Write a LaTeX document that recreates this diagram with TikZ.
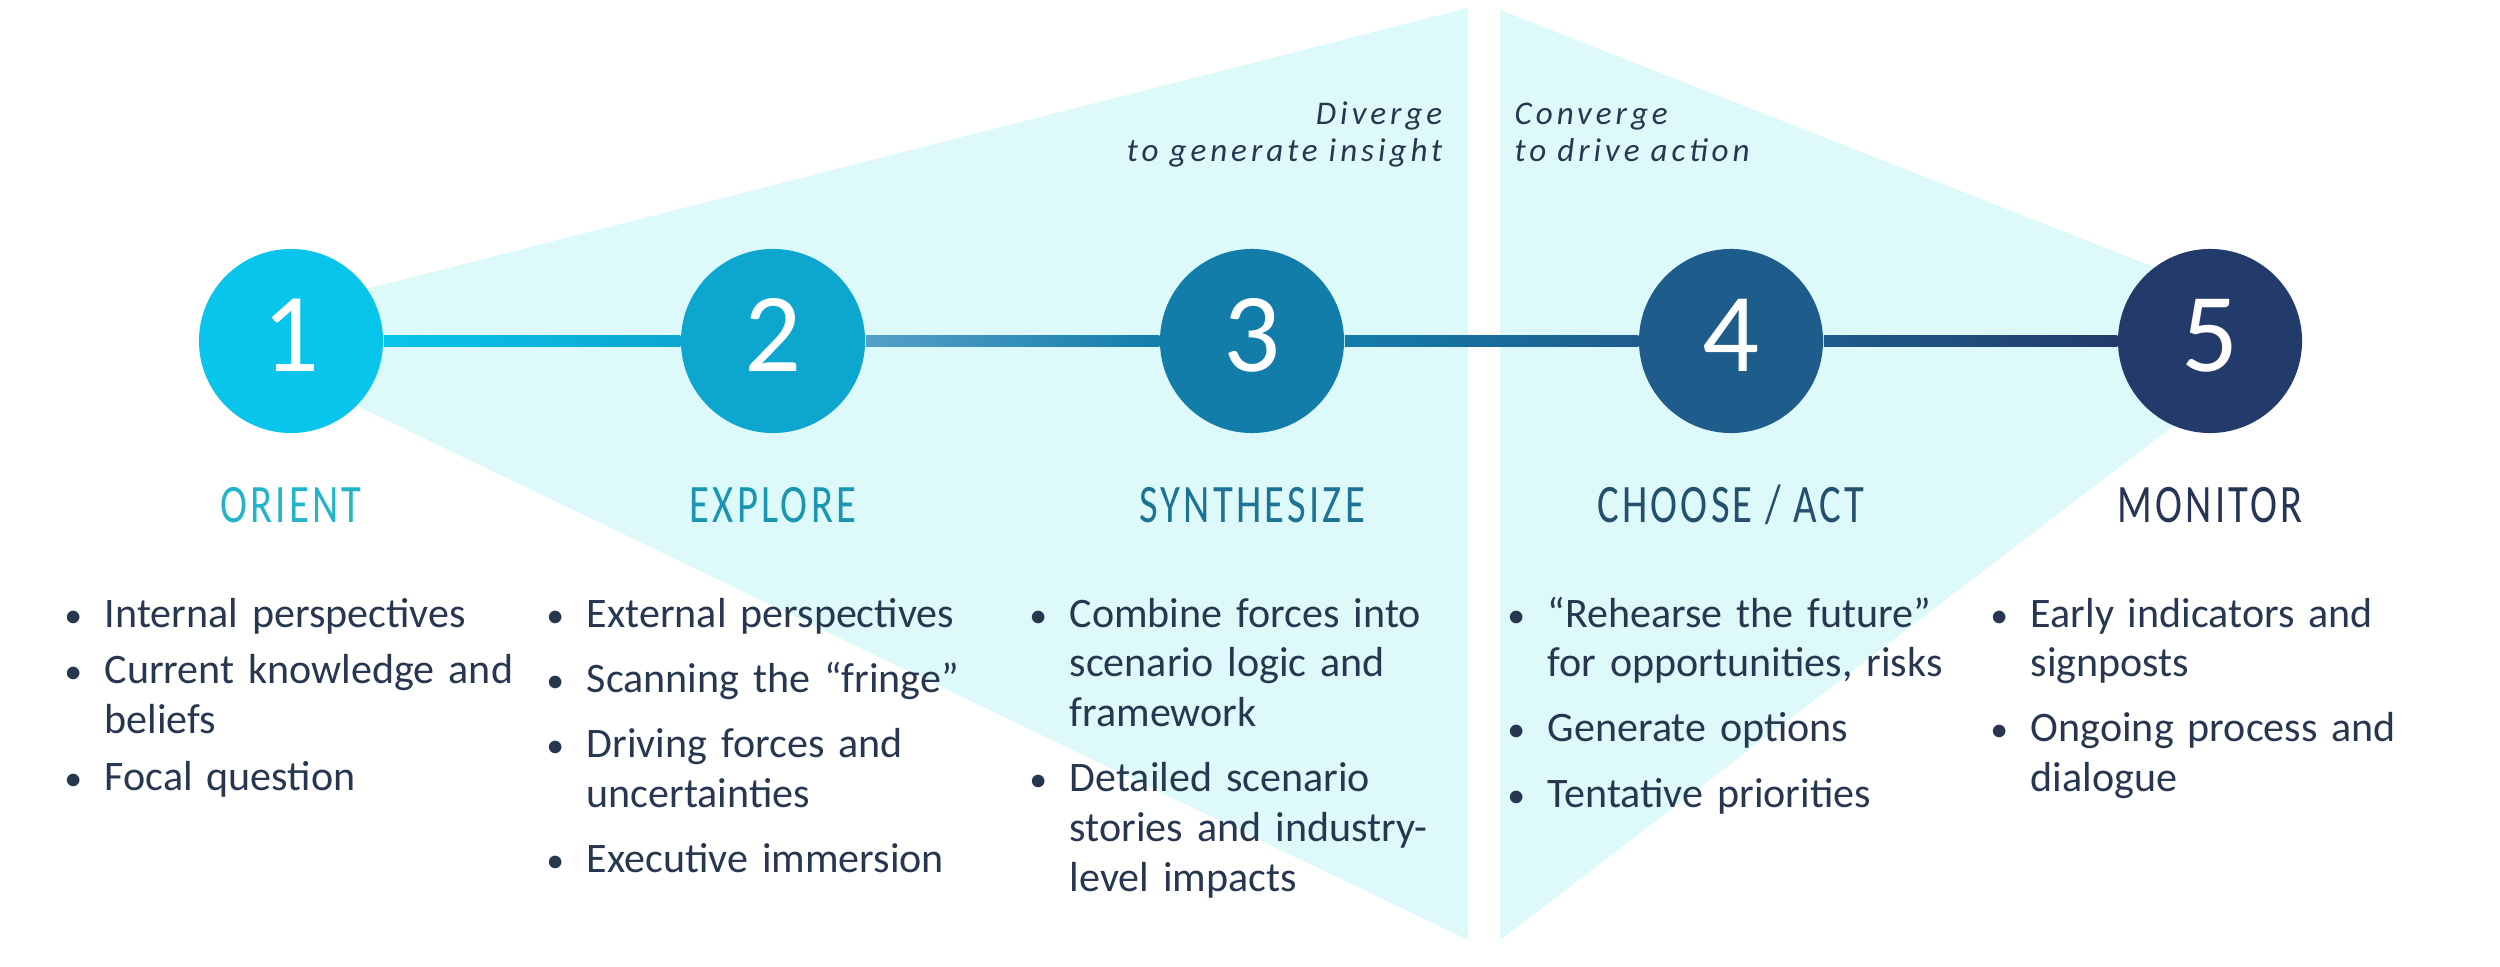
\documentclass[tikz,border=0pt]{standalone}
\usepackage{fontspec}
\setmainfont{Carlito}
\newfontfamily\headfont[FakeStretch=0.75,LetterSpace=6]{Carlito}
\newfontfamily\notefont[LetterSpace=12]{Carlito}

\definecolor{fanfill}{RGB}{221,249,249}
\definecolor{ink}{RGB}{40,55,80}
\definecolor{dotA}{RGB}{9,197,235}
\definecolor{dotB}{RGB}{12,166,207}
\definecolor{dotC}{RGB}{19,125,170}
\definecolor{dotD}{RGB}{30,92,140}
\definecolor{dotE}{RGB}{35,59,106}
\definecolor{barB}{RGB}{85,160,200}
\definecolor{headA}{RGB}{35,180,202}
\definecolor{headB}{RGB}{24,150,178}
\definecolor{headC}{RGB}{28,115,150}
\definecolor{headD}{RGB}{34,80,110}
\definecolor{headE}{RGB}{38,52,85}

\newlength\bulind
\setlength\bulind{0.42cm}
\newcommand\bul[1]{\leavevmode\hangindent=\bulind\hangafter=1
  \hbox to\bulind{\kern0.5pt\scalebox{0.85}{\textbullet}\hfil}#1\par}

\tikzset{
  stepdot/.style={circle, minimum size=1.84cm, inner sep=0pt, text=white,
    text height=0.71cm, text depth=0.1cm, font=\fontsize{32}{32}\selectfont},
  stephead/.style={anchor=base, inner sep=0pt,
    font=\headfont\fontsize{15.4}{18}\selectfont},
  steplist/.style={anchor=base west, inner sep=0pt, text width=4.6cm,
    align=left, text=ink, font=\fontsize{11.95}{14.2}\selectfont,
    execute at begin node={\setlength\parskip{#1}}},
  steplist/.default=4.3pt,
  phase/.style={inner sep=0pt, text width=3.6cm, text=ink,
    font=\notefont\itshape\fontsize{9.4}{10.5}\selectfont},
}

\begin{document}
\begin{tikzpicture}[x=0.01cm, y=-0.01cm]
  \useasboundingbox (0,0) rectangle (2500,967);

  \fill[fanfill] (201,331) -- (1468,8) -- (1468,940) -- cycle;
  \fill[fanfill] (1500,10) -- (2304,326) -- (1500,940) -- cycle;

  \node[phase, align=right, anchor=base east] (diverge) at (1443,125)
    {Diverge\\to generate insight};
  \node[phase, align=left, anchor=base west] (converge) at (1514,125)
    {Converge\\to drive action};

  \foreach \i/\x/\c/\h/\tag in {1/291/dotA/headA/ORIENT, 2/773/dotB/headB/EXPLORE,
      3/1252/dotC/headC/SYNTHESIZE, 4/1731/dotD/headD/{CHOOSE / ACT},
      5/2210/dotE/headE/MONITOR} {
    \node[stepdot, fill=\c] (s\i) at (\x,341) {\i};
    \node[stephead, text=\h] (h\i) at (\x,522) {\tag};
  }

  \foreach \a/\b/\ca/\cb in {1/2/dotA/dotB, 2/3/barB/dotC, 3/4/dotC/dotD, 4/5/dotD/dotE}
    \shade[left color=\ca, right color=\cb]
      ([yshift=-1.7pt]s\a.east) rectangle ([yshift=1.7pt]s\b.west);

  \node[steplist=2pt] (l1) at (62,627) {%
    \bul{Internal perspectives}
    \bul{Current knowledge and\newline beliefs}
    \bul{Focal question}};
  \node[steplist] (l2) at (544,627) {%
    \bul{External perspectives}
    \bul{Scanning the “fringe”}
    \bul{Driving forces and\newline uncertainties}
    \bul{Executive immersion}};
  \node[steplist] (l3) at (1027,627) {%
    \bul{Combine forces into\newline scenario logic and\newline framework}
    \bul{Detailed scenario\newline stories and industry-\newline level impacts}};
  \node[steplist] (l4) at (1505,627) {%
    \bul{“Rehearse the future”\newline for opportunities, risks}
    \bul{Generate options}
    \bul{Tentative priorities}};
  \node[steplist] (l5) at (1988,627) {%
    \bul{Early indicators and\newline signposts}
    \bul{Ongoing process and\newline dialogue}};
\end{tikzpicture}
\end{document}
